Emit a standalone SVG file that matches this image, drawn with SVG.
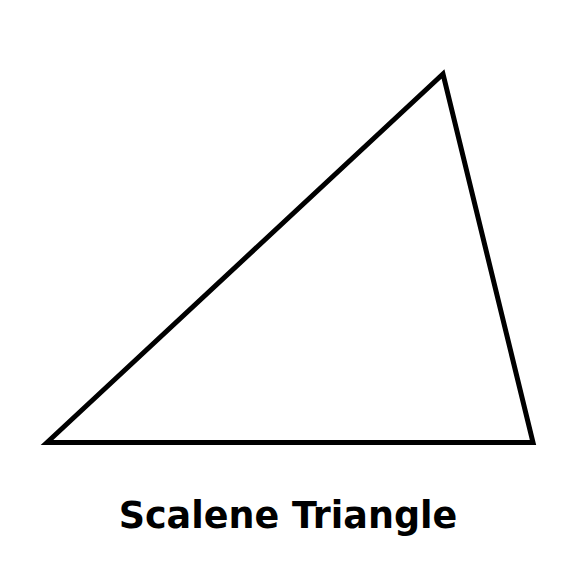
<svg xmlns="http://www.w3.org/2000/svg" width="576" height="576" viewBox="0 0 576 576">
<style>
.shape{fill:none;stroke:#000;stroke-width:5;stroke-linejoin:miter;stroke-miterlimit:10}
.label{font-family:"DejaVu Sans",sans-serif;font-weight:bold;font-size:36.5px;fill:#000}
</style>
<rect width="576" height="576" fill="#fff"/>
<g id="triangle">
<polygon class="shape" points="47,442.5 443,74 533,442.5"/>
</g>
<g id="title">
<text class="label" x="288" y="528" text-anchor="middle">Scalene Triangle</text>
</g>
</svg>
